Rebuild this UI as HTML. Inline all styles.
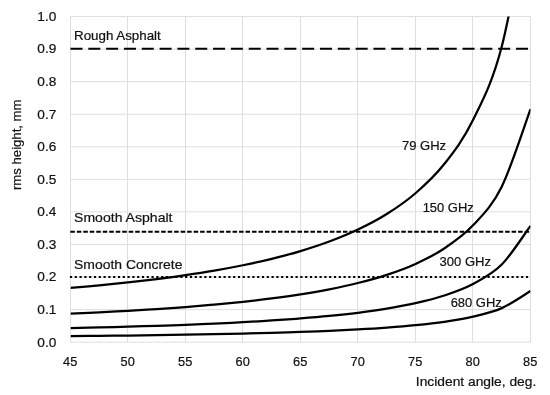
<!DOCTYPE html>
<html><head><meta charset="utf-8"><title>rms height vs incident angle</title>
<style>
html,body{margin:0;padding:0;background:#fff;}
svg{display:block;font-family:"Liberation Sans",sans-serif;font-size:12.8px;}
text{fill:#111;stroke:#111;stroke-width:0.2px;}
</style></head><body>
<svg width="550" height="395" viewBox="0 0 550 395">
<rect width="550" height="395" fill="#fff"/>
<defs><clipPath id="cp"><rect x="70.5" y="16.5" width="460.0" height="325.7"/></clipPath></defs>
<g stroke="#dedede" stroke-width="1" fill="none"><line x1="70.50" y1="16.50" x2="70.50" y2="342.20"/><line x1="127.50" y1="16.50" x2="127.50" y2="342.20"/><line x1="185.50" y1="16.50" x2="185.50" y2="342.20"/><line x1="242.50" y1="16.50" x2="242.50" y2="342.20"/><line x1="300.50" y1="16.50" x2="300.50" y2="342.20"/><line x1="357.50" y1="16.50" x2="357.50" y2="342.20"/><line x1="415.50" y1="16.50" x2="415.50" y2="342.20"/><line x1="472.50" y1="16.50" x2="472.50" y2="342.20"/><line x1="530.50" y1="16.50" x2="530.50" y2="342.20"/><line x1="70.50" y1="342.20" x2="530.50" y2="342.20"/><line x1="70.50" y1="309.63" x2="530.50" y2="309.63"/><line x1="70.50" y1="277.06" x2="530.50" y2="277.06"/><line x1="70.50" y1="244.49" x2="530.50" y2="244.49"/><line x1="70.50" y1="211.92" x2="530.50" y2="211.92"/><line x1="70.50" y1="179.35" x2="530.50" y2="179.35"/><line x1="70.50" y1="146.78" x2="530.50" y2="146.78"/><line x1="70.50" y1="114.21" x2="530.50" y2="114.21"/><line x1="70.50" y1="81.64" x2="530.50" y2="81.64"/><line x1="70.50" y1="49.07" x2="530.50" y2="49.07"/><line x1="70.50" y1="16.50" x2="530.50" y2="16.50"/></g>
<g stroke="#000" stroke-width="2" fill="none">
<line x1="70.5" y1="48.7" x2="530.5" y2="48.7" stroke-dasharray="12 5.82"/>
<line x1="70.3" y1="231.8" x2="530.5" y2="231.8" stroke-dasharray="4.55 1.94"/>
<line x1="69.9" y1="277" x2="530.5" y2="277" stroke-dasharray="2.2 2.6"/>
</g>
<g stroke="#000" stroke-width="2.25" fill="none" clip-path="url(#cp)"><g transform="translate(0,0.3)"><path d="M70.50 287.58 C75.29 287.15 89.67 285.94 99.25 285.03 C108.83 284.12 118.42 283.16 128.00 282.11 C137.58 281.07 147.17 279.96 156.75 278.75 C166.33 277.54 175.92 276.27 185.50 274.86 C195.08 273.45 204.67 271.97 214.25 270.31 C223.83 268.66 233.42 266.91 243.00 264.95 C252.58 262.99 262.17 260.91 271.75 258.55 C281.33 256.19 290.92 253.69 300.50 250.81 C310.08 247.93 319.67 244.86 329.25 241.27 C338.83 237.68 348.42 233.86 358.00 229.27 C367.58 224.68 377.17 219.80 386.75 213.75 C396.33 207.70 405.92 201.30 415.50 192.97 C425.08 184.63 434.67 175.95 444.25 163.75 C453.83 151.55 463.42 139.35 473.00 119.77 C482.58 100.19 492.17 83.08 501.75 46.29 C511.33 9.50 525.71 -76.42 530.50 -100.96"/><path d="M70.50 313.43 C75.29 313.21 89.67 312.57 99.25 312.09 C108.83 311.61 118.42 311.10 128.00 310.55 C137.58 310.00 147.17 309.42 156.75 308.78 C166.33 308.15 175.92 307.48 185.50 306.73 C195.08 305.99 204.67 305.21 214.25 304.34 C223.83 303.47 233.42 302.55 243.00 301.52 C252.58 300.48 262.17 299.39 271.75 298.15 C281.33 296.90 290.92 295.58 300.50 294.07 C310.08 292.55 319.67 290.93 329.25 289.04 C338.83 287.15 348.42 285.14 358.00 282.72 C367.58 280.31 377.17 277.74 386.75 274.55 C396.33 271.37 405.92 267.99 415.50 263.60 C425.08 259.21 434.67 254.64 444.25 248.21 C453.83 241.79 463.42 235.36 473.00 225.05 C482.58 214.74 492.17 205.73 501.75 186.35 C511.33 166.98 525.71 121.73 530.50 108.80"/><path d="M70.50 327.82 C75.29 327.70 89.67 327.38 99.25 327.14 C108.83 326.91 118.42 326.65 128.00 326.38 C137.58 326.10 147.17 325.81 156.75 325.49 C166.33 325.17 175.92 324.84 185.50 324.47 C195.08 324.10 204.67 323.70 214.25 323.27 C223.83 322.84 233.42 322.37 243.00 321.86 C252.58 321.34 262.17 320.79 271.75 320.17 C281.33 319.55 290.92 318.89 300.50 318.13 C310.08 317.37 319.67 316.57 329.25 315.62 C338.83 314.68 348.42 313.67 358.00 312.46 C367.58 311.25 377.17 309.97 386.75 308.38 C396.33 306.78 405.92 305.10 415.50 302.90 C425.08 300.71 434.67 298.42 444.25 295.21 C453.83 291.99 463.42 288.78 473.00 283.63 C482.58 278.47 492.17 273.96 501.75 264.28 C511.33 254.59 525.71 231.96 530.50 225.50"/><path d="M70.50 335.85 C75.29 335.80 89.67 335.66 99.25 335.56 C108.83 335.45 118.42 335.34 128.00 335.22 C137.58 335.10 147.17 334.97 156.75 334.83 C166.33 334.69 175.92 334.54 185.50 334.38 C195.08 334.21 204.67 334.04 214.25 333.85 C223.83 333.66 233.42 333.45 243.00 333.23 C252.58 333.00 262.17 332.76 271.75 332.48 C281.33 332.21 290.92 331.92 300.50 331.58 C310.08 331.25 319.67 330.89 329.25 330.47 C338.83 330.06 348.42 329.61 358.00 329.08 C367.58 328.55 377.17 327.98 386.75 327.28 C396.33 326.57 405.92 325.83 415.50 324.86 C425.08 323.89 434.67 322.89 444.25 321.47 C453.83 320.05 463.42 318.63 473.00 316.36 C482.58 314.08 492.17 312.10 501.75 307.82 C511.33 303.55 525.71 293.57 530.50 290.71"/></g></g>
<g><text x="37.3" y="346.60" textLength="19" lengthAdjust="spacingAndGlyphs">0.0</text><text x="37.3" y="314.03" textLength="19" lengthAdjust="spacingAndGlyphs">0.1</text><text x="37.3" y="281.46" textLength="19" lengthAdjust="spacingAndGlyphs">0.2</text><text x="37.3" y="248.89" textLength="19" lengthAdjust="spacingAndGlyphs">0.3</text><text x="37.3" y="216.32" textLength="19" lengthAdjust="spacingAndGlyphs">0.4</text><text x="37.3" y="183.75" textLength="19" lengthAdjust="spacingAndGlyphs">0.5</text><text x="37.3" y="151.18" textLength="19" lengthAdjust="spacingAndGlyphs">0.6</text><text x="37.3" y="118.61" textLength="19" lengthAdjust="spacingAndGlyphs">0.7</text><text x="37.3" y="86.04" textLength="19" lengthAdjust="spacingAndGlyphs">0.8</text><text x="37.3" y="53.47" textLength="19" lengthAdjust="spacingAndGlyphs">0.9</text><text x="37.3" y="20.90" textLength="19" lengthAdjust="spacingAndGlyphs">1.0</text></g>
<g><text x="70.20" y="366" text-anchor="middle">45</text><text x="127.70" y="366" text-anchor="middle">50</text><text x="185.20" y="366" text-anchor="middle">55</text><text x="242.70" y="366" text-anchor="middle">60</text><text x="300.20" y="366" text-anchor="middle">65</text><text x="357.70" y="366" text-anchor="middle">70</text><text x="415.20" y="366" text-anchor="middle">75</text><text x="472.70" y="366" text-anchor="middle">80</text><text x="530.20" y="366" text-anchor="middle">85</text></g>
<text x="74" y="39.7" textLength="86.8" lengthAdjust="spacingAndGlyphs">Rough Asphalt</text>
<text x="74" y="221.7" textLength="98.5" lengthAdjust="spacingAndGlyphs">Smooth Asphalt</text>
<text x="74" y="268.6" textLength="108.5" lengthAdjust="spacingAndGlyphs">Smooth Concrete</text>
<text x="402" y="149.8" textLength="44" lengthAdjust="spacingAndGlyphs">79 GHz</text>
<text x="422.7" y="211.5" textLength="51" lengthAdjust="spacingAndGlyphs">150 GHz</text>
<text x="439.5" y="265.7" textLength="51.5" lengthAdjust="spacingAndGlyphs">300 GHz</text>
<text x="450.7" y="307.2" textLength="51" lengthAdjust="spacingAndGlyphs">680 GHz</text>
<text x="415.8" y="385.9" textLength="120.5" lengthAdjust="spacingAndGlyphs">Incident angle, deg.</text>
<text transform="translate(20.5,190) rotate(-90)" textLength="90.5" lengthAdjust="spacingAndGlyphs">rms height, mm</text>
</svg>
</body></html>
